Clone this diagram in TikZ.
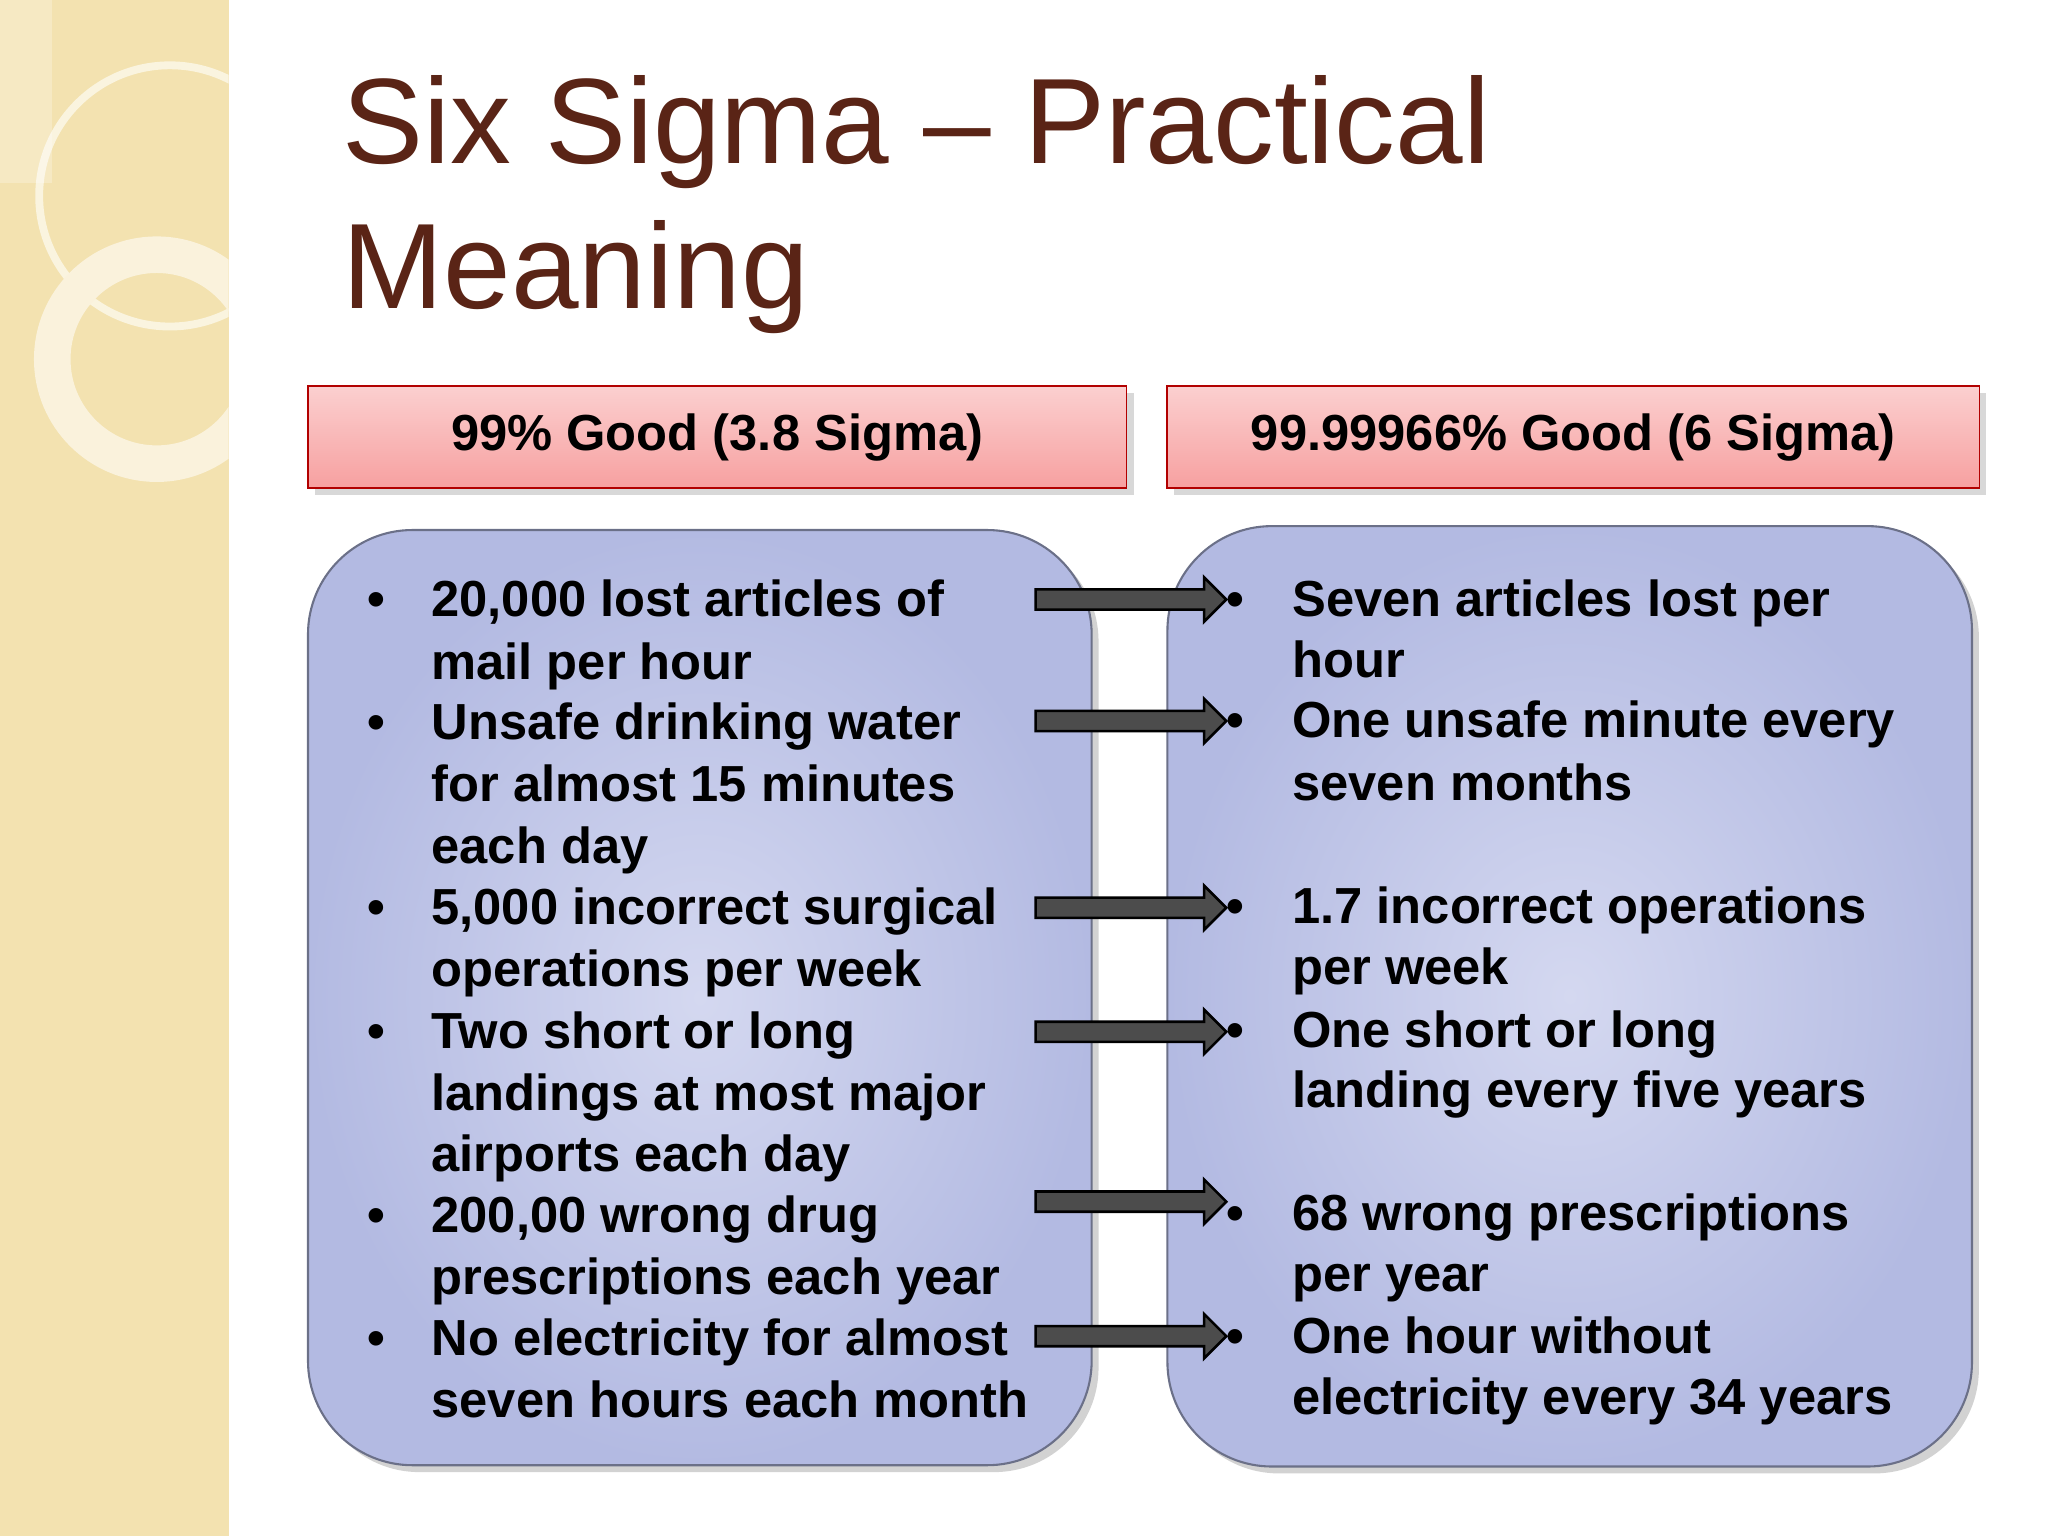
\documentclass[tikz,border=0pt]{standalone}
\usepackage{fontspec}
\setmainfont{Liberation Sans}
\usetikzlibrary{shapes.arrows,shadows}
\definecolor{beige}{HTML}{F3E2B0}
\definecolor{titlec}{HTML}{5A2416}
\definecolor{lav}{HTML}{B3BAE2}
\definecolor{lavl}{HTML}{D4D8F0}
\definecolor{hdr}{HTML}{F7A0A0}
\tikzset{
 hbox/.style={draw=red!70!black, line width=0.6pt, top color=hdr!50!white, bottom color=hdr, font=\fontsize{19.4}{22}\selectfont\bfseries, drop shadow={opacity=0.3}},
 lbox/.style={draw=lav!60!black, line width=0.8pt, rounded corners=40pt, inner color=lavl, outer color=lav, drop shadow={opacity=0.35}},
 ln/.style={anchor=base west, inner sep=0pt, font=\fontsize{19.4}{22}\selectfont\bfseries},
 arr/.style={single arrow, draw=black, line width=1pt, fill=gray!60!black, minimum height=73pt, minimum width=17pt, single arrow head extend=3pt, inner sep=2pt, anchor=center}
}
\begin{document}
\begin{tikzpicture}[x=0.5pt,y=-0.5pt]
\useasboundingbox (0,0) rectangle (1568,1176);
\fill[white] (0,0) rectangle (1568,1176);
\fill[beige] (0,0) rectangle (175,1176);
\begin{scope}
\clip (0,0) rectangle (175,1176);
\draw[white!60!beige, line width=3pt] (130,150) circle (100);
\draw[white!55!beige, line width=14pt] (120,275) circle (80);
\fill[white, opacity=0.25] (0,0) rectangle (40,140);
\end{scope}
\node[anchor=base west, inner sep=0, text=titlec, font=\fontsize{46.5}{50}\selectfont] (t1) at (262,125) {Six Sigma -- Practical};
\node[anchor=base west, inner sep=0, text=titlec, font=\fontsize{46.5}{50}\selectfont] (t2) at (262,236) {Meaning};
\node[hbox, minimum width=313.5pt, minimum height=39pt, anchor=north west] (h1) at (235,295) {99\% Good (3.8 Sigma)};
\node[hbox, minimum width=311pt, minimum height=39pt, anchor=north west] (h2) at (893,295) {99.99966\% Good (6 Sigma)};
\node[lbox, minimum width=300pt, minimum height=358pt, anchor=north west] (b1) at (235,405) {};
\node[lbox, minimum width=308pt, minimum height=360pt, anchor=north west] (b2) at (893,402) {};
\foreach \y/\b/\t in {459/1/20{,}000 lost articles of, 507/0/mail per hour, 553/1/Unsafe drinking water, 601/0/for almost 15 minutes, 648/0/each day, 695/1/5{,}000 incorrect surgical, 742/0/operations per week, 790/1/Two short or long, 837/0/landings at most major, 884/0/airports each day, 931/1/200{,}00 wrong drug, 978/0/prescriptions each year, 1025/1/No electricity for almost, 1072/0/seven hours each month}{
 \node[ln] (l\y) at (330,\y+13) {\t};
 \ifnum\b=1 \node[ln] (lb\y) at (281,\y+13) {•};\fi
}
\foreach \y/\b/\t in {459/1/Seven articles lost per, 506/0/hour, 552/1/One unsafe minute every, 600/0/seven months, 694/1/1.7 incorrect operations, 741/0/per week, 789/1/One short or long, 835/0/landing every five years, 929/1/68 wrong prescriptions, 976/0/per year, 1023/1/One hour without, 1070/0/electricity every 34 years}{
 \node[ln] (r\y) at (989,\y+13) {\t};
 \ifnum\b=1 \node[ln] (rb\y) at (939,\y+13) {•};\fi
}
\foreach \y in {459,552,695,790,920,1023}{
 \node[arr] (a\y) at (862,\y) {};
}
\end{tikzpicture}
\end{document}
